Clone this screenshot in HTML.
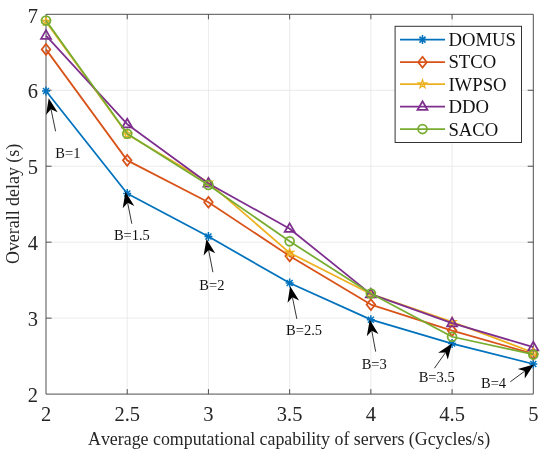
<!DOCTYPE html>
<html><head><meta charset="utf-8"><title>Overall delay</title>
<style>html,body{margin:0;padding:0;background:#fff}svg{display:block;font-kerning:none}</style></head>
<body>
<svg width="550" height="457" viewBox="0 0 550 457" font-family="'Liberation Serif', serif">
<rect width="550" height="457" fill="#fff"/>
<path d="M127.22 14.30V394.10M208.43 14.30V394.10M289.65 14.30V394.10M370.87 14.30V394.10M452.08 14.30V394.10M46.00 318.14H533.30M46.00 242.18H533.30M46.00 166.22H533.30M46.00 90.26H533.30" stroke="#e6e6e6" stroke-width="0.8" fill="none"/>
<path d="M46.00 14.30H533.30V394.10H46.00ZM127.22 394.10v-5.00M127.22 14.30v5.00M208.43 394.10v-5.00M208.43 14.30v5.00M289.65 394.10v-5.00M289.65 14.30v5.00M370.87 394.10v-5.00M370.87 14.30v5.00M452.08 394.10v-5.00M452.08 14.30v5.00M46.00 318.14h5.60M533.30 318.14h-5.60M46.00 242.18h5.60M533.30 242.18h-5.60M46.00 166.22h5.60M533.30 166.22h-5.60M46.00 90.26h5.60M533.30 90.26h-5.60" stroke="#505050" stroke-width="1" fill="none"/>
<polyline points="46.00,91.02 127.22,193.57 208.43,236.56 289.65,283.05 370.87,319.66 452.08,343.59 533.30,364.02" stroke="#0072BD" stroke-width="1.75" fill="none" stroke-linejoin="round"/>
<path d="M42.00 91.02H50.00M46.00 86.52V95.52M43.00 88.02L49.00 94.02M43.00 94.02L49.00 88.02" stroke="#0072BD" stroke-width="1.5" fill="none"/>
<path d="M123.22 193.57H131.22M127.22 189.07V198.07M124.22 190.57L130.22 196.57M124.22 196.57L130.22 190.57" stroke="#0072BD" stroke-width="1.5" fill="none"/>
<path d="M204.43 236.56H212.43M208.43 232.06V241.06M205.43 233.56L211.43 239.56M205.43 239.56L211.43 233.56" stroke="#0072BD" stroke-width="1.5" fill="none"/>
<path d="M285.65 283.05H293.65M289.65 278.55V287.55M286.65 280.05L292.65 286.05M286.65 286.05L292.65 280.05" stroke="#0072BD" stroke-width="1.5" fill="none"/>
<path d="M366.87 319.66H374.87M370.87 315.16V324.16M367.87 316.66L373.87 322.66M367.87 322.66L373.87 316.66" stroke="#0072BD" stroke-width="1.5" fill="none"/>
<path d="M448.08 343.59H456.08M452.08 339.09V348.09M449.08 340.59L455.08 346.59M449.08 346.59L455.08 340.59" stroke="#0072BD" stroke-width="1.5" fill="none"/>
<path d="M529.30 364.02H537.30M533.30 359.52V368.52M530.30 361.02L536.30 367.02M530.30 367.02L536.30 361.02" stroke="#0072BD" stroke-width="1.5" fill="none"/>
<polyline points="46.00,49.39 127.22,160.37 208.43,202.23 289.65,256.00 370.87,304.62 452.08,330.60 533.30,353.84" stroke="#D95319" stroke-width="1.75" fill="none" stroke-linejoin="round"/>
<path d="M46.00 43.99L50.30 49.39L46.00 54.79L41.70 49.39Z" stroke="#D95319" stroke-width="1.75" fill="none"/>
<path d="M127.22 154.97L131.52 160.37L127.22 165.77L122.92 160.37Z" stroke="#D95319" stroke-width="1.75" fill="none"/>
<path d="M208.43 196.83L212.73 202.23L208.43 207.63L204.13 202.23Z" stroke="#D95319" stroke-width="1.75" fill="none"/>
<path d="M289.65 250.60L293.95 256.00L289.65 261.40L285.35 256.00Z" stroke="#D95319" stroke-width="1.75" fill="none"/>
<path d="M370.87 299.22L375.17 304.62L370.87 310.02L366.57 304.62Z" stroke="#D95319" stroke-width="1.75" fill="none"/>
<path d="M452.08 325.20L456.38 330.60L452.08 336.00L447.78 330.60Z" stroke="#D95319" stroke-width="1.75" fill="none"/>
<path d="M533.30 348.44L537.60 353.84L533.30 359.24L529.00 353.84Z" stroke="#D95319" stroke-width="1.75" fill="none"/>
<polyline points="46.00,21.67 127.22,134.32 208.43,182.55 289.65,252.81 370.87,293.98 452.08,321.94 533.30,352.55" stroke="#EDB120" stroke-width="1.75" fill="none" stroke-linejoin="round"/>
<polygon points="46.00,17.37 46.97,20.34 50.09,20.34 47.56,22.18 48.53,25.15 46.00,23.31 43.47,25.15 44.44,22.18 41.91,20.34 45.03,20.34" stroke="#EDB120" stroke-width="1.25" fill="none"/>
<polygon points="127.22,130.02 128.18,132.99 131.31,132.99 128.78,134.82 129.74,137.80 127.22,135.96 124.69,137.80 125.65,134.82 123.13,132.99 126.25,132.99" stroke="#EDB120" stroke-width="1.25" fill="none"/>
<polygon points="208.43,178.25 209.40,181.22 212.52,181.22 210.00,183.06 210.96,186.03 208.43,184.19 205.91,186.03 206.87,183.06 204.34,181.22 207.47,181.22" stroke="#EDB120" stroke-width="1.25" fill="none"/>
<polygon points="289.65,248.51 290.62,251.49 293.74,251.49 291.21,253.32 292.18,256.29 289.65,254.46 287.12,256.29 288.09,253.32 285.56,251.49 288.68,251.49" stroke="#EDB120" stroke-width="1.25" fill="none"/>
<polygon points="370.87,289.68 371.83,292.66 374.96,292.66 372.43,294.49 373.39,297.46 370.87,295.63 368.34,297.46 369.30,294.49 366.78,292.66 369.90,292.66" stroke="#EDB120" stroke-width="1.25" fill="none"/>
<polygon points="452.08,317.64 453.05,320.61 456.17,320.61 453.65,322.45 454.61,325.42 452.08,323.58 449.56,325.42 450.52,322.45 447.99,320.61 451.12,320.61" stroke="#EDB120" stroke-width="1.25" fill="none"/>
<polygon points="533.30,348.25 534.27,351.22 537.39,351.22 534.86,353.06 535.83,356.03 533.30,354.19 530.77,356.03 531.74,353.06 529.21,351.22 532.33,351.22" stroke="#EDB120" stroke-width="1.25" fill="none"/>
<polyline points="46.00,35.57 127.22,124.21 208.43,183.46 289.65,228.74 370.87,294.06 452.08,323.08 533.30,347.16" stroke="#7E2F8E" stroke-width="1.75" fill="none" stroke-linejoin="round"/>
<path d="M46.00 30.17L51.00 38.82L41.00 38.82Z" stroke="#7E2F8E" stroke-width="1.75" fill="none"/>
<path d="M127.22 118.81L132.22 127.46L122.22 127.46Z" stroke="#7E2F8E" stroke-width="1.75" fill="none"/>
<path d="M208.43 178.06L213.43 186.71L203.43 186.71Z" stroke="#7E2F8E" stroke-width="1.75" fill="none"/>
<path d="M289.65 223.34L294.65 231.99L284.65 231.99Z" stroke="#7E2F8E" stroke-width="1.75" fill="none"/>
<path d="M370.87 288.66L375.87 297.31L365.87 297.31Z" stroke="#7E2F8E" stroke-width="1.75" fill="none"/>
<path d="M452.08 317.68L457.08 326.33L447.08 326.33Z" stroke="#7E2F8E" stroke-width="1.75" fill="none"/>
<path d="M533.30 341.76L538.30 350.41L528.30 350.41Z" stroke="#7E2F8E" stroke-width="1.75" fill="none"/>
<polyline points="46.00,20.60 127.22,133.71 208.43,184.98 289.65,241.34 370.87,293.60 452.08,336.75 533.30,354.45" stroke="#77AC30" stroke-width="1.75" fill="none" stroke-linejoin="round"/>
<circle cx="46.00" cy="20.60" r="4.45" stroke="#77AC30" stroke-width="1.75" fill="none"/>
<circle cx="127.22" cy="133.71" r="4.45" stroke="#77AC30" stroke-width="1.75" fill="none"/>
<circle cx="208.43" cy="184.98" r="4.45" stroke="#77AC30" stroke-width="1.75" fill="none"/>
<circle cx="289.65" cy="241.34" r="4.45" stroke="#77AC30" stroke-width="1.75" fill="none"/>
<circle cx="370.87" cy="293.60" r="4.45" stroke="#77AC30" stroke-width="1.75" fill="none"/>
<circle cx="452.08" cy="336.75" r="4.45" stroke="#77AC30" stroke-width="1.75" fill="none"/>
<circle cx="533.30" cy="354.45" r="4.45" stroke="#77AC30" stroke-width="1.75" fill="none"/>
<line x1="55.60" y1="131.30" x2="51.00" y2="109.21" stroke="#111" stroke-width="0.85"/><polygon points="48.71,98.21 57.66,112.28 51.00,109.21 46.11,114.69" fill="#000"/>
<line x1="131.80" y1="223.70" x2="127.65" y2="202.83" stroke="#111" stroke-width="0.85"/><polygon points="125.46,191.81 134.29,205.96 127.65,202.83 122.72,208.26" fill="#000"/>
<line x1="212.90" y1="272.20" x2="208.60" y2="249.99" stroke="#111" stroke-width="0.85"/><polygon points="206.47,238.96 215.22,253.16 208.60,249.99 203.64,255.40" fill="#000"/>
<line x1="296.85" y1="318.90" x2="292.42" y2="297.32" stroke="#111" stroke-width="0.85"/><polygon points="290.16,286.31 299.08,300.41 292.42,297.32 287.52,302.78" fill="#000"/>
<line x1="375.65" y1="351.65" x2="371.81" y2="330.86" stroke="#111" stroke-width="0.85"/><polygon points="369.77,319.81 378.41,334.08 371.81,330.86 366.80,336.22" fill="#000"/>
<line x1="434.40" y1="368.20" x2="445.50" y2="352.58" stroke="#111" stroke-width="0.85"/><polygon points="452.01,343.43 447.78,359.56 445.50,352.58 438.16,352.73" fill="#000"/>
<line x1="510.30" y1="381.75" x2="524.80" y2="371.12" stroke="#111" stroke-width="0.85"/><polygon points="533.86,364.49 524.77,378.47 524.80,371.12 517.79,368.95" fill="#000"/>
<text x="55.3" y="158.2" font-size="14.5" fill="#111">B=1</text>
<text x="113.9" y="239.8" font-size="14.5" fill="#111">B=1.5</text>
<text x="199.3" y="289.9" font-size="14.5" fill="#111">B=2</text>
<text x="286.1" y="335.2" font-size="14.5" fill="#111">B=2.5</text>
<text x="361.7" y="368.8" font-size="14.5" fill="#111">B=3</text>
<text x="418.7" y="382.1" font-size="14.5" fill="#111">B=3.5</text>
<text x="481.0" y="387.6" font-size="14.5" fill="#111">B=4</text>
<text x="46.00" y="421.3" font-size="20.5" text-anchor="middle" fill="#262626">2</text>
<text x="127.22" y="421.3" font-size="20.5" text-anchor="middle" fill="#262626">2.5</text>
<text x="208.43" y="421.3" font-size="20.5" text-anchor="middle" fill="#262626">3</text>
<text x="289.65" y="421.3" font-size="20.5" text-anchor="middle" fill="#262626">3.5</text>
<text x="370.87" y="421.3" font-size="20.5" text-anchor="middle" fill="#262626">4</text>
<text x="452.08" y="421.3" font-size="20.5" text-anchor="middle" fill="#262626">4.5</text>
<text x="533.30" y="421.3" font-size="20.5" text-anchor="middle" fill="#262626">5</text>
<text x="38.0" y="402.30" font-size="20.5" text-anchor="end" fill="#262626">2</text>
<text x="38.0" y="326.34" font-size="20.5" text-anchor="end" fill="#262626">3</text>
<text x="38.0" y="250.38" font-size="20.5" text-anchor="end" fill="#262626">4</text>
<text x="38.0" y="174.42" font-size="20.5" text-anchor="end" fill="#262626">5</text>
<text x="38.0" y="98.46" font-size="20.5" text-anchor="end" fill="#262626">6</text>
<text x="38.0" y="22.50" font-size="20.5" text-anchor="end" fill="#262626">7</text>
<text x="88.0" y="444.6" font-size="17.87" fill="#262626">Average computational capability of servers (Gcycles/s)</text>
<text transform="translate(18.5,203.9) rotate(-90)" font-size="17.9" text-anchor="middle" fill="#262626">Overall delay (s)</text>
<rect x="395.1" y="26.3" width="126.4" height="116.2" fill="#fff" stroke="#333" stroke-width="1"/>
<line x1="400" y1="39.60" x2="445" y2="39.60" stroke="#0072BD" stroke-width="1.75"/>
<path d="M418.50 39.60H426.50M422.50 35.10V44.10M419.50 36.60L425.50 42.60M419.50 42.60L425.50 36.60" stroke="#0072BD" stroke-width="1.5" fill="none"/>
<text x="448.4" y="46.00" font-size="18.7" fill="#111">DOMUS</text>
<line x1="400" y1="62.20" x2="445" y2="62.20" stroke="#D95319" stroke-width="1.75"/>
<path d="M422.50 56.80L426.80 62.20L422.50 67.60L418.20 62.20Z" stroke="#D95319" stroke-width="1.75" fill="none"/>
<text x="448.4" y="68.40" font-size="18.7" fill="#111">STCO</text>
<line x1="400" y1="84.10" x2="445" y2="84.10" stroke="#EDB120" stroke-width="1.75"/>
<polygon points="422.50,79.80 423.47,82.77 426.59,82.77 424.06,84.61 425.03,87.58 422.50,85.74 419.97,87.58 420.94,84.61 418.41,82.77 421.53,82.77" stroke="#EDB120" stroke-width="1.25" fill="none"/>
<text x="448.4" y="90.60" font-size="18.7" fill="#111">IWPSO</text>
<line x1="400" y1="106.70" x2="445" y2="106.70" stroke="#7E2F8E" stroke-width="1.75"/>
<path d="M422.50 101.30L427.50 109.95L417.50 109.95Z" stroke="#7E2F8E" stroke-width="1.75" fill="none"/>
<text x="448.4" y="113.30" font-size="18.7" fill="#111">DDO</text>
<line x1="400" y1="129.10" x2="445" y2="129.10" stroke="#77AC30" stroke-width="1.75"/>
<circle cx="422.50" cy="129.10" r="4.45" stroke="#77AC30" stroke-width="1.75" fill="none"/>
<text x="448.4" y="135.60" font-size="18.7" fill="#111">SACO</text>
</svg>
</body></html>
